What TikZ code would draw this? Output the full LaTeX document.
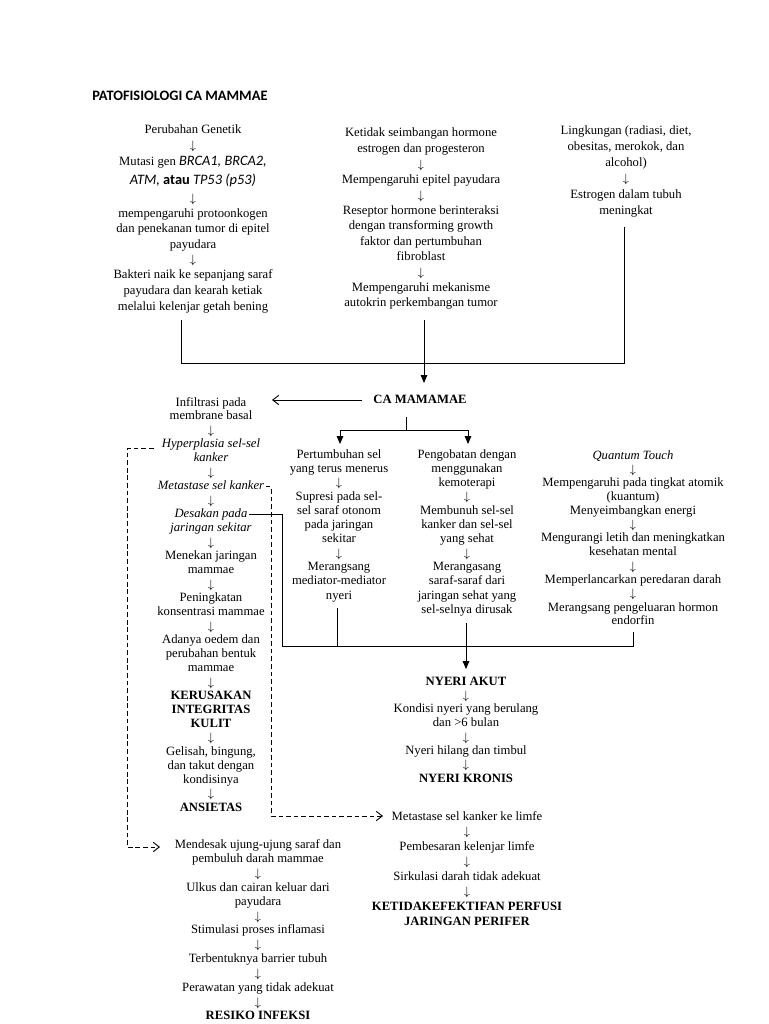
\documentclass[tikz,border=0pt]{standalone}
\usepackage{fontspec}
\setmainfont{Liberation Serif}
\newfontfamily\calibri{Carlito}
\usetikzlibrary{arrows.meta}
\usetikzlibrary{calc}
\tikzset{t/.style={font=\fontsize{9.5}{9.5}\selectfont, inner sep=0pt, text height=6.5pt, text depth=2pt}}
\tikzset{ln/.style={line width=0.7pt}}
\tikzset{dl/.style={line width=0.7pt, dash pattern=on 3.5pt off 2.2pt}}
\tikzset{fa/.style={-{Triangle[length=6pt,width=5pt]}}}
\tikzset{oa/.style={-{Straight Barb[length=4.5pt,width=7pt]}}}
\newcommand{\dn}{\raisebox{-0.5pt}{$\downarrow$}}
\newcommand{\sfi}[1]{{\calibri\itshape\fontsize{10.8}{10.8}\selectfont #1}}

\begin{document}
\begin{tikzpicture}[x=0.75pt,y=-0.75pt]
  \useasboundingbox (0,0) rectangle (768,1024);
  \node[anchor=west, inner sep=0pt, font=\calibri\bfseries\fontsize{10.8}{10.8}\selectfont] (title) at (92,96) {PATOFISIOLOGI CA MAMMAE};
  % sebab
  \foreach \y/\s [count=\i from 0] in {130/Perubahan Genetik, 146/\dn, 162/{Mutasi gen \sfi{BRCA1, BRCA2,}},
      181/{\sfi{ATM,} {\calibri\bfseries\fontsize{10.8}{10.8}\selectfont atau} \sfi{TP53 (p53)}}, 199/\dn,
      214/mempengaruhi protoonkogen, 229/dan penekanan tumor di epitel, 245/payudara, 260/\dn,
      275/Bakteri naik ke sepanjang saraf, 291/payudara dan kearah ketiak, 307/melalui kelenjar getah bening}
    \node[t] (gen\i) at (193,\y) {\s};
  \foreach \s [count=\i from 0] in {Ketidak seimbangan hormone, estrogen dan progesteron, \dn,
      Mempengaruhi epitel payudara, \dn, Reseptor hormone berinteraksi, dengan transforming growth,
      faktor dan pertumbuhan, fibroblast, \dn, Mempengaruhi mekanisme, autokrin perkembangan tumor}
    \node[t] (horm\i) at (421,134+15.45*\i) {\s};
  \foreach \s [count=\i from 0] in {{Lingkungan (radiasi, diet,}, {obesitas, merokok, dan}, alcohol), \dn,
      Estrogen dalam tubuh, meningkat}
    \node[t] (ling\i) at (626,131+16*\i) {\s};

  \node[t, font=\fontsize{9.5}{9.5}\selectfont\bfseries] (ca) at (420,400) {CA MAMAMAE};

  % kiri
  \foreach \s [count=\i from 0] in {Infiltrasi pada, membrane basal, \dn, \textit{Hyperplasia sel-sel}, \textit{kanker}, \dn,
      \textit{Metastase sel kanker}, \dn, \textit{Desakan pada}, \textit{jaringan sekitar}, \dn,
      Menekan jaringan, mammae, \dn, Peningkatan, konsentrasi mammae, \dn, Adanya oedem dan,
      perubahan bentuk, mammae, \dn, \textbf{KERUSAKAN}, \textbf{INTEGRITAS}, \textbf{KULIT}, \dn,
      {Gelisah, bingung,}, dan takut dengan, kondisinya, \dn, \textbf{ANSIETAS}}
    \node[t] (kul\i) at (211,403+13.97*\i) {\s};
  \foreach \s [count=\i from 0] in {Pertumbuhan sel, yang terus menerus, \dn, Supresi pada sel-, sel saraf otonom,
      pada jaringan, sekitar, \dn, Merangsang, mediator-mediator, nyeri}
    \node[t] (tum\i) at (339,455+14.1*\i) {\s};
  \foreach \s [count=\i from 0] in {Pengobatan dengan, menggunakan, kemoterapi, \dn, Membunuh sel-sel,
      kanker dan sel-sel, yang sehat, \dn, Merangasang, saraf-saraf dari, jaringan sehat yang, sel-selnya dirusak}
    \node[t] (kemo\i) at (467,455+14.1*\i) {\s};
  \foreach \s [count=\i from 0] in {\textit{Quantum Touch}, \dn, Mempengaruhi pada tingkat atomik, (kuantum),
      Menyeimbangkan energi, \dn, Mengurangi letih dan meningkatkan, kesehatan mental, \dn,
      Memperlancarkan peredaran darah, \dn, Merangsang pengeluaran hormon, endorfin}
    \node[t] (qt\i) at (633,456+13.83*\i) {\s};

  % bawah
  \foreach \s [count=\i from 0] in {\textbf{NYERI AKUT}, \dn, Kondisi nyeri yang berulang, dan >6 bulan, \dn,
      Nyeri hilang dan timbul, \dn, \textbf{NYERI KRONIS}}
    \node[t] (ny\i) at (466,682+13.86*\i) {\s};
  \foreach \s [count=\i from 0] in {Metastase sel kanker ke limfe, \dn, Pembesaran kelenjar limfe, \dn,
      Sirkulasi darah tidak adekuat, \dn, \textbf{KETIDAKEFEKTIFAN PERFUSI}, \textbf{JARINGAN PERIFER}}
    \node[t] (lim\i) at (467,817+15*\i) {\s};
  \foreach \s [count=\i from 0] in {Mendesak ujung-ujung saraf dan, pembuluh darah mammae, \dn,
      Ulkus dan cairan keluar dari, payudara, \dn, Stimulasi proses inflamasi, \dn,
      Terbentuknya barrier tubuh, \dn, Perawatan yang tidak adekuat, \dn, \textbf{RESIKO INFEKSI}}
    \node[t] (res\i) at (258,845+14.33*\i) {\s};

  % garis
  \coordinate (genOut) at (181,320);
  \coordinate (jL) at (181,363);
  \coordinate (jR) at (624,363);
  \coordinate (lingOut) at (624,227);
  \coordinate (hormOut) at (424,320);
  \coordinate (caIn) at (424,383);
  \draw[ln] (genOut) -- (jL) -- (jR) -- (lingOut);
  \draw[ln, fa] (hormOut) -- (caIn);
  \coordinate (infIn) at (272,400);
  \draw[ln, oa, shorten <=8pt] (ca.west) -- (infIn);
  \coordinate (caDown) at (406,417);
  \coordinate (caSplit) at (406,430);
  \coordinate (tumIn) at (340,444);
  \coordinate (kemoIn) at (468,444);
  \draw[ln] (caDown) -- (caSplit);
  \draw[ln, fa] (caSplit) -| (tumIn);
  \draw[ln, fa] (caSplit) -| (kemoIn);

  \coordinate (desB) at (282,646);
  \coordinate (qtB) at (633,646);
  \coordinate (qtOut) at (633,632);
  \coordinate (tumOut) at (337,608);
  \coordinate (kemoOut) at (466,623);
  \coordinate (nyIn) at (466,669);
  \draw[ln] ([xshift=1pt]kul8.east) -- (kul8.east -| desB) -- (desB) -- (qtB) -- (qtOut);
  \draw[ln] (tumOut) -- (tumOut |- desB);
  \draw[ln, fa] (kemoOut) -- (nyIn);

  \coordinate (hypB) at (127,847);
  \coordinate (resIn) at (160,847);
  \coordinate (metB) at (271,816);
  \coordinate (limIn) at (383,816);
  \draw[dl, oa] ([shift={(-6pt,-3pt)}]kul3.west) -| (hypB) -- (resIn);
  \draw[dl, oa] ([xshift=1pt]kul6.east) -| (metB) -- (limIn);
\end{tikzpicture}
\end{document}
